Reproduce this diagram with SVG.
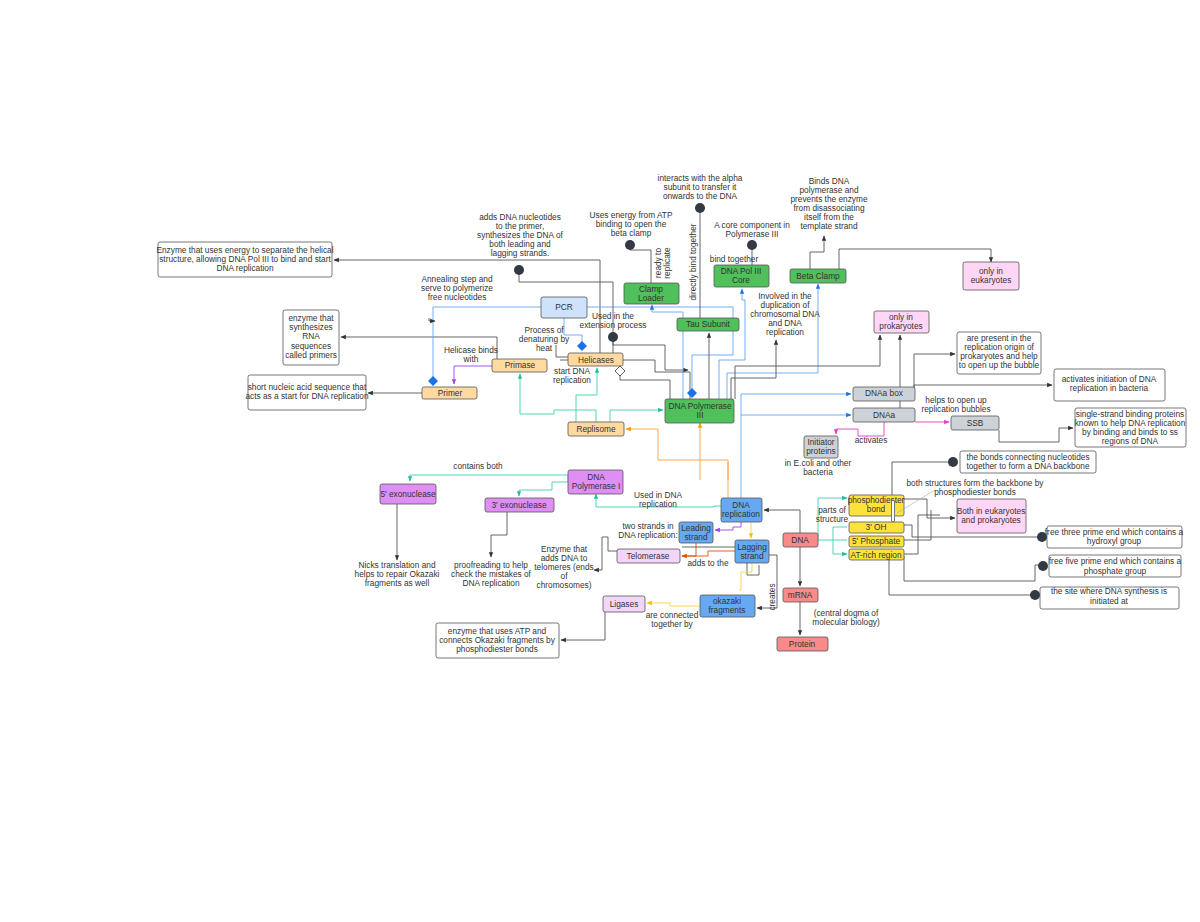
<svg xmlns="http://www.w3.org/2000/svg" width="1200" height="922" viewBox="0 0 1200 922">
<defs>
<marker id="a" viewBox="0 0 10 10" refX="9" refY="5" markerWidth="6" markerHeight="6" orient="auto"><path d="M0,1 L10,5 L0,9z" fill="#333"/></marker>
<marker id="ab" viewBox="0 0 10 10" refX="9" refY="5" markerWidth="6" markerHeight="6" orient="auto"><path d="M0,1 L10,5 L0,9z" fill="#1a73e8"/></marker>
<marker id="at" viewBox="0 0 10 10" refX="9" refY="5" markerWidth="6" markerHeight="6" orient="auto"><path d="M0,1 L10,5 L0,9z" fill="#1fbfa0"/></marker>
<marker id="ao" viewBox="0 0 10 10" refX="9" refY="5" markerWidth="6" markerHeight="6" orient="auto"><path d="M0,1 L10,5 L0,9z" fill="#f90"/></marker>
<marker id="ay" viewBox="0 0 10 10" refX="9" refY="5" markerWidth="6" markerHeight="6" orient="auto"><path d="M0,1 L10,5 L0,9z" fill="#f5c000"/></marker>
<marker id="ap" viewBox="0 0 10 10" refX="9" refY="5" markerWidth="6" markerHeight="6" orient="auto"><path d="M0,1 L10,5 L0,9z" fill="#e040c0"/></marker>
<marker id="av" viewBox="0 0 10 10" refX="9" refY="5" markerWidth="6" markerHeight="6" orient="auto"><path d="M0,1 L10,5 L0,9z" fill="#a040f0"/></marker>
<marker id="ar" viewBox="0 0 10 10" refX="9" refY="5" markerWidth="6" markerHeight="6" orient="auto"><path d="M0,1 L10,5 L0,9z" fill="#e05000"/></marker>
</defs>
<style>
text{font-family:"Liberation Sans",Arial,sans-serif;font-size:8.3px;fill:#333;text-anchor:middle}
.n rect{stroke:#555;stroke-width:0.8}
.w{fill:#fff}.o{fill:#fed9a0}.g{fill:#4fc05a}.lb{fill:#cfe2fb}.pk{fill:#ffd6f5}.gr{fill:#cdd2d8}.y{fill:#fde23b}.r{fill:#f88a8a}.b{fill:#66a8f2}.lp{fill:#f3d5fa}.pu{fill:#df8ef5}
#c path{fill:none;stroke:#555;stroke-width:0.9}
#c .bl{stroke:#64a6f5}#c .t{stroke:#3dcfb0}#c .or{stroke:#f9a040}#c .ye{stroke:#f8d040}#c .pi{stroke:#e040c0}#c .vi{stroke:#a040f0}#c .re{stroke:#e05000}
.dot{fill:#333a44}
</style>
<rect width="1200" height="922" fill="#fff"/>
<g id="c">
<path d="M600,353 V260 H334" marker-end="url(#a)"/>
<path d="M497,359 V337 H341" marker-end="url(#a)"/>
<path d="M422,393 H368" marker-end="url(#a)"/>
<path class="bl" d="M541,307 H433 V380"/>
<path class="bl" d="M587,307 H733 V355 H692 V392"/>
<path d="M429,318 V321 H435" marker-end="url(#a)"/>
<path d="M492,366 H454 V384" class="vi" marker-end="url(#av)"/>
<path class="bl" d="M564,318 V335 H582 V343"/>
<path d="M568,357 H556 V345"/>
<path d="M519,270 V282 H613 V353"/>
<path d="M630,245 V250 H651 V283"/>
<path class="t" d="M576,422 V395 H597 V368" marker-end="url(#at)"/>
<path class="t" d="M596,422 V410 H554 V414 H520 V374" marker-end="url(#at)"/>
<path class="t" d="M610,422 V410 H663" marker-end="url(#at)"/>
<path class="or" d="M728,480 V460 H658 V429 H626" marker-end="url(#ao)"/>
<path class="or" d="M728,498 V462" />
<path class="or" d="M700,480 V423" marker-end="url(#ao)"/>
<path d="M568,360 H560 M623,360 H655 V372 H690 V399"/>
<path d="M620,373 V380 H670 V399"/>
<path d="M613,339 V345 H665 V370 H688" marker-end="url(#a)"/>
<path d="M709,399 V333" marker-end="url(#a)"/>
<path d="M700,318 V208"/>
<path class="bl" d="M683,399 V312 H652 V305" marker-end="url(#ab)"/>
<path class="bl" d="M719,399 V360 H745 V300 H742 V289" marker-end="url(#ab)"/>
<path class="bl" d="M727,399 V373 H818 V284" marker-end="url(#ab)"/>
<path d="M731,399 V378 H776 V340" marker-end="url(#a)"/>
<path d="M735,399 V366 H880 V335" marker-end="url(#a)"/>
<path d="M752,245 V265"/>
<path d="M810,269 V252 H824 V236" marker-end="url(#a)"/>
<path d="M839,269 V249 H991 V262" marker-end="url(#a)"/>
<path class="bl" d="M741,498 V394 H851" marker-end="url(#ab)"/>
<path class="bl" d="M741,415 H851" marker-end="url(#ab)"/>
<path d="M900,408 V335" marker-end="url(#a)"/>
<path d="M914,398 V354 H955" marker-end="url(#a)"/>
<path d="M914,398 V385 H1052" marker-end="url(#a)"/>
<path class="pi" d="M884,422 V436 H858 V429 H836 V434" marker-end="url(#ap)"/>
<path class="pi" d="M915,422 H949" marker-end="url(#ap)"/>
<path d="M999,430 V442 H1059 V428 H1073" marker-end="url(#a)"/>
<path d="M892,495 V462 H948"/>
<path d="M904,499 H927 V518 H955" marker-end="url(#a)"/>
<path d="M904,525 H912 V537 H1040"/>
<path d="M904,554 H918 V515 H940"/>
<path d="M904,556 V581 H1035 V565 H1040"/>
<path d="M889,560 V595 H1032"/>
<path d="M904,540 H931 V510"/>
<path class="t" d="M818,539 V498 H847" marker-end="url(#at)"/>
<path class="t" d="M818,540 H847 M833,540 V527 H847 M833,540 V554 H847" marker-end="url(#at)"/>
<path d="M800,533 V510 H764" marker-end="url(#a)"/>
<path d="M800,547 V586" marker-end="url(#a)"/>
<path d="M800,602 V635" marker-end="url(#a)"/>
<path class="t" d="M721,506 H714 V507 H596 V494" marker-end="url(#at)"/>
<path class="vi" d="M741,522 V527 H733 V530 H715" marker-end="url(#av)"/>
<path class="ye" d="M751,522 V538" marker-end="url(#ay)"/>
<path class="re" d="M696,543 V556 H682" marker-end="url(#ar)"/>
<path d="M735,547 H682" />
<path class="re" d="M740,551 H708 V556 H682"/>
<path d="M769,555 H777 V608 H757" marker-end="url(#a)"/>
<path d="M747,563 V575 H759 V565"/>
<path class="ye" d="M752,563 V572 H741 V590 H739"/>
<path class="ye" d="M700,606 H670 V603 H647" marker-end="url(#ay)"/>
<path d="M605,612 V640 H561" marker-end="url(#a)"/>
<path d="M617,551 H608 V537 H602 V570 H594" marker-end="url(#a)"/>
<path class="t" d="M568,482 V475 H410 V481" marker-end="url(#at)"/>
<path class="t" d="M568,482 H552 V490 H519 V496" marker-end="url(#at)"/>
<path d="M397,504 V560" marker-end="url(#a)"/>
<path d="M507,512 V535 H491 V557" marker-end="url(#a)"/>
</g>
<g id="nodes">
<g id="n1" class="n"><rect class="w" x="158" y="242" width="174" height="35" rx="2"/><text x="245" y="253">Enzyme that uses energy to separate the helical</text><text x="245" y="262">structure, allowing DNA Pol III to bind and start</text><text x="245" y="271">DNA replication</text></g>
<g id="n2" class="n"><rect class="w" x="283" y="310" width="56" height="55" rx="2"/><text x="311" y="321">enzyme that</text><text x="311" y="330">synthesizes</text><text x="311" y="339">RNA</text><text x="311" y="349">sequences</text><text x="311" y="358">called primers</text></g>
<g id="n3" class="n"><rect class="w" x="248" y="375" width="118" height="35" rx="2"/><text x="307" y="390">short nucleic acid sequence that</text><text x="307" y="399">acts as a start for DNA replication</text></g>
<g id="n4" class="n"><rect class="o" x="422" y="387" width="55" height="12" rx="2"/><text x="450" y="396">Primer</text></g>
<g id="n5" class="n"><rect class="o" x="492" y="359" width="55" height="13" rx="2"/><text x="520" y="368">Primase</text></g>
<g id="n6" class="n"><rect class="lb" x="541" y="297" width="46" height="21" rx="2"/><text x="564" y="310">PCR</text></g>
<g id="n7" class="n"><rect class="o" x="568" y="353" width="55" height="13" rx="2"/><text x="596" y="363">Helicases</text></g>
<g id="n8" class="n"><rect class="o" x="568" y="422" width="56" height="14" rx="2"/><text x="596" y="432">Replisome</text></g>
<g id="n9" class="n"><rect class="g" x="624" y="283" width="55" height="21" rx="2"/><text x="651" y="292">Clamp</text><text x="651" y="301">Loader</text></g>
<g id="n10" class="n"><rect class="g" x="677" y="318" width="62" height="13" rx="2"/><text x="708" y="327">Tau Subunit</text></g>
<g id="n11" class="n"><rect class="g" x="714" y="265" width="55" height="22" rx="2"/><text x="741" y="274">DNA Pol III</text><text x="741" y="283">Core</text></g>
<g id="n12" class="n"><rect class="g" x="790" y="269" width="56" height="14" rx="2"/><text x="818" y="279">Beta Clamp</text></g>
<g id="n13" class="n"><rect class="pk" x="963" y="262" width="56" height="28" rx="2"/><text x="991" y="274">only in</text><text x="991" y="283">eukaryotes</text></g>
<g id="n14" class="n"><rect class="pk" x="874" y="311" width="55" height="22" rx="2"/><text x="901" y="320">only in</text><text x="901" y="329">prokaryotes</text></g>
<g id="n15" class="n"><rect class="g" x="665" y="399" width="69" height="24" rx="2"/><text x="700" y="409">DNA Polymerase</text><text x="700" y="418">III</text></g>
<g id="n16" class="n"><rect class="w" x="957" y="332" width="84" height="42" rx="2"/><text x="999" y="341">are present in the</text><text x="999" y="350">replication origin of</text><text x="999" y="359">prokaryotes and help</text><text x="999" y="368">to open up the bubble</text></g>
<g id="n17" class="n"><rect class="w" x="1054" y="369" width="111" height="32" rx="2"/><text x="1109" y="382">activates initiation of DNA</text><text x="1109" y="391">replication in bacteria</text></g>
<g id="n18" class="n"><rect class="gr" x="853" y="387" width="62" height="14" rx="2"/><text x="884" y="396">DNAa box</text></g>
<g id="n19" class="n"><rect class="gr" x="853" y="408" width="62" height="14" rx="2"/><text x="884" y="418">DNAa</text></g>
<g id="n20" class="n"><rect class="gr" x="951" y="416" width="48" height="14" rx="2"/><text x="975" y="426">SSB</text></g>
<g id="n21" class="n"><rect class="w" x="1075" y="408" width="111" height="39" rx="2"/><text x="1130" y="417">single-strand binding proteins</text><text x="1130" y="426">known to help DNA replication</text><text x="1130" y="435">by binding and binds to ss</text><text x="1130" y="444">regions of DNA</text></g>
<g id="n22" class="n"><rect class="gr" x="804" y="436" width="34" height="22" rx="2"/><text x="821" y="445">Initiator</text><text x="821" y="454">proteins</text></g>
<g id="n23" class="n"><rect class="w" x="960" y="451" width="136" height="22" rx="2"/><text x="1028" y="460">the bonds connecting nucleotides</text><text x="1028" y="469">together to form a DNA backbone</text></g>
<g id="n24" class="n"><rect class="y" x="849" y="495" width="55" height="21" rx="2"/><text x="876" y="503">phosphodiester</text><text x="876" y="512">bond</text></g>
<g id="n25" class="n"><rect class="y" x="849" y="522" width="55" height="11" rx="2"/><text x="876" y="530">3' OH</text></g>
<g id="n26" class="n"><rect class="y" x="849" y="536" width="55" height="11" rx="2"/><text x="876" y="544">5' Phosphate</text></g>
<g id="n27" class="n"><rect class="y" x="849" y="549" width="55" height="11" rx="2"/><text x="876" y="558">AT-rich region</text></g>
<g id="n28" class="n"><rect class="pk" x="957" y="499" width="69" height="34" rx="2"/><text x="991" y="514">Both in eukaryotes</text><text x="991" y="523">and prokaryotes</text></g>
<g id="n29" class="n"><rect class="w" x="1047" y="526" width="135" height="22" rx="2"/><text x="1114" y="535">free three prime end which contains a</text><text x="1114" y="544">hydroxyl group</text></g>
<g id="n30" class="n"><rect class="w" x="1049" y="555" width="132" height="22" rx="2"/><text x="1115" y="564">free five prime end which contains a</text><text x="1115" y="574">phosphate group</text></g>
<g id="n31" class="n"><rect class="w" x="1040" y="587" width="139" height="22" rx="2"/><text x="1109" y="594">the site where DNA synthesis is</text><text x="1109" y="604">initiated at</text></g>
<g id="n32" class="n"><rect class="r" x="783" y="533" width="35" height="14" rx="2"/><text x="800" y="543">DNA</text></g>
<g id="n33" class="n"><rect class="r" x="783" y="588" width="35" height="14" rx="2"/><text x="800" y="598">mRNA</text></g>
<g id="n34" class="n"><rect class="r" x="777" y="637" width="51" height="14" rx="2"/><text x="802" y="647">Protein</text></g>
<g id="n35" class="n"><rect class="b" x="721" y="498" width="41" height="24" rx="2"/><text x="741" y="508">DNA</text><text x="741" y="517">replication</text></g>
<g id="n36" class="n"><rect class="b" x="679" y="522" width="34" height="21" rx="2"/><text x="696" y="531">Leading</text><text x="696" y="540">strand</text></g>
<g id="n37" class="n"><rect class="b" x="735" y="540" width="34" height="23" rx="2"/><text x="752" y="550">Lagging</text><text x="752" y="559">strand</text></g>
<g id="n38" class="n"><rect class="b" x="700" y="595" width="55" height="22" rx="2"/><text x="727" y="604">okazaki</text><text x="727" y="613">fragments</text></g>
<g id="n39" class="n"><rect class="lp" x="617" y="549" width="63" height="14" rx="2"/><text x="648" y="559">Telomerase</text></g>
<g id="n40" class="n"><rect class="lp" x="603" y="596" width="42" height="16" rx="2"/><text x="624" y="607">Ligases</text></g>
<g id="n41" class="n"><rect class="w" x="436" y="623" width="123" height="35" rx="2"/><text x="497" y="634">enzyme that uses ATP and</text><text x="497" y="643">connects Okazaki fragments by</text><text x="497" y="652">phosphodiester bonds</text></g>
<g id="n42" class="n"><rect class="pu" x="568" y="470" width="55" height="24" rx="2"/><text x="596" y="480">DNA</text><text x="596" y="489">Polymerase I</text></g>
<g id="n43" class="n"><rect class="pu" x="380" y="484" width="56" height="20" rx="2"/><text x="408" y="497">5' exonuclease</text></g>
<g id="n44" class="n"><rect class="pu" x="485" y="498" width="69" height="14" rx="2"/><text x="519" y="508">3' exonuclease</text></g>
</g>
<g id="marks">
<circle class="dot" cx="519" cy="270" r="5"/><circle class="dot" cx="630" cy="245" r="5"/><circle class="dot" cx="700" cy="208" r="5"/><circle class="dot" cx="752" cy="245" r="5"/><circle class="dot" cx="613" cy="337" r="5"/>
<circle class="dot" cx="953" cy="462" r="5"/><circle class="dot" cx="1042" cy="537" r="5"/><circle class="dot" cx="1043" cy="566" r="5"/><circle class="dot" cx="1035" cy="595" r="5"/>
<path d="M433,376 l5,5 -5,5 -5,-5z" fill="#1a73e8"/><path d="M582,341 l5,5 -5,5 -5,-5z" fill="#1a73e8"/><path d="M692,388 l5,5 -5,5 -5,-5z" fill="#1a73e8"/>
<path d="M620,366 l5,5 -5,5 -5,-5z" fill="#fff" stroke="#333" stroke-width="0.8"/>
<path d="M893,502 V520" stroke="#555" stroke-width="4" stroke-linecap="round"/><path d="M893,502 V520" stroke="#fff" stroke-width="2.4" stroke-linecap="round"/>
<path d="M897,513 L935,490" stroke="#aaa" stroke-width="0.6"/>
</g>
<g id="labels">
<text x="520" y="220">adds DNA nucleotides</text><text x="520" y="229">to the primer,</text><text x="520" y="238">synthesizes the DNA of</text><text x="520" y="247">both leading and</text><text x="520" y="256">lagging strands.</text>
<text x="631" y="218">Uses energy from ATP</text><text x="631" y="227">binding to open the</text><text x="631" y="236">beta clamp</text>
<text x="700" y="181">interacts with the alpha</text><text x="700" y="190">subunit to transfer it</text><text x="700" y="199">onwards to the DNA</text>
<text x="752" y="228">A core component in</text><text x="752" y="237">Polymerase III</text>
<text x="734" y="262">bind together</text>
<text x="829" y="184">Binds DNA</text><text x="829" y="193">polymerase and</text><text x="829" y="202">prevents the enzyme</text><text x="829" y="211">from disassociating</text><text x="829" y="220">itself from the</text><text x="829" y="229">template strand</text>
<text transform="translate(661,263) rotate(-90)">ready to</text><text transform="translate(670,263) rotate(-90)">replicate</text>
<text transform="translate(696,262) rotate(-90)">directly bind together</text>
<text x="457" y="282">Annealing step and</text><text x="457" y="291">serve to polymerize</text><text x="457" y="300">free nucleotides</text>
<text x="544" y="333">Process of</text><text x="544" y="342">denaturing by</text><text x="544" y="351">heat</text>
<text x="613" y="319">Used in the</text><text x="613" y="328">extension process</text>
<text x="471" y="353">Helicase binds</text><text x="471" y="362">with</text>
<text x="572" y="374">start DNA</text><text x="572" y="383">replication</text>
<text x="785" y="299">Involved in the</text><text x="785" y="308">duplication of</text><text x="785" y="317">chromosomal DNA</text><text x="785" y="326">and DNA</text><text x="785" y="335">replication</text>
<text x="956" y="403">helps to open up</text><text x="956" y="412">replication bubbles</text>
<text x="871" y="443">activates</text>
<text x="818" y="466">in E.coli and other</text><text x="818" y="475">bacteria</text>
<text x="975" y="486">both structures form the backbone by</text><text x="975" y="495">phosphodiester bonds</text>
<text x="832" y="513">parts of</text><text x="832" y="522">structure</text>
<text x="478" y="469">contains both</text>
<text x="658" y="498">Used in DNA</text><text x="658" y="507">replication</text>
<text x="648" y="529">two strands in</text><text x="648" y="538">DNA replication:</text>
<text x="564" y="552">Enzyme that</text><text x="564" y="561">adds DNA to</text><text x="564" y="570">telomeres (ends</text><text x="564" y="579">of</text><text x="564" y="588">chromosomes)</text>
<text x="708" y="566">adds to the</text>
<text transform="translate(775,597) rotate(-90)">creates</text>
<text x="672" y="618">are connected</text><text x="672" y="627">together by</text>
<text x="846" y="616">(central dogma of</text><text x="846" y="625">molecular biology)</text>
<text x="397" y="568">Nicks translation and</text><text x="397" y="577">helps to repair Okazaki</text><text x="397" y="586">fragments as well</text>
<text x="491" y="568">proofreading to help</text><text x="491" y="577">check the mistakes of</text><text x="491" y="586">DNA replication</text>
</g>
</svg>
